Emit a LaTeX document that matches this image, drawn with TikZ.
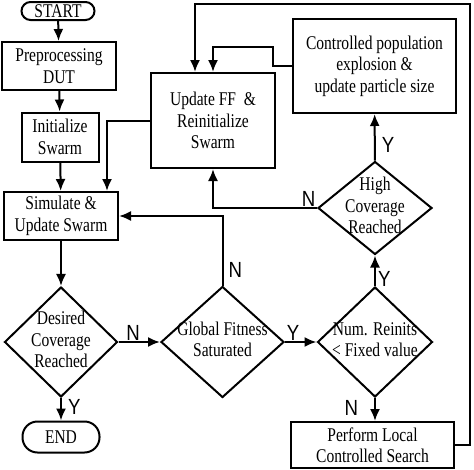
\documentclass[tikz,border=0pt]{standalone}
\usepackage{fontspec}
\setmainfont{Liberation Serif}[FakeStretch=0.8]
\newfontfamily\yesnofont{Liberation Sans}[FakeStretch=0.85]
\usetikzlibrary{arrows.meta,shapes.geometric,positioning}

\newcommand{\dtext}[1]{\smash{\makebox[0pt]{\raisebox{-5bp}{\begin{tabular}{@{}c@{}}#1\end{tabular}}}}}

\tikzset{
	block/.style={draw, rectangle, line width=2bp, inner sep=0pt, align=center,
		font=\fontsize{19.5}{21.5}\selectfont},
	term/.style={block, rounded corners=9bp},
	decision/.style={draw, diamond, line width=2bp, inner sep=0pt,
		font=\fontsize{19.5}{21.5}\selectfont},
	yn/.style={font=\yesnofont\fontsize{22}{22}\selectfont, inner sep=1bp}
}

\begin{document}
\begin{tikzpicture}[>={Latex[length=12bp,width=10bp]}, line width=2bp]
	\useasboundingbox (0bp,0bp) rectangle (474bp,-470bp);

	\node (start) at (58bp,-11bp)    [term, minimum width=73bp, minimum height=18bp]  {START};
	\node (pre)   at (59bp,-66bp)    [block, minimum width=114bp, minimum height=48bp] {Preprocessing\\DUT};
	\node (init)  at (60bp,-137bp)   [block, minimum width=77bp, minimum height=49bp]  {Initialize\\Swarm};
	\node (sim)   at (61bp,-216bp)   [block, minimum width=114bp, minimum height=48bp] {Simulate \&\\Update Swarm};
	\node (des)   at (61bp,-342bp)   [decision, minimum width=113bp, minimum height=110bp] {\dtext{Desired\\Coverage\\Reached}};
	\node (end)   at (61bp,-437bp)   [term, minimum width=77bp, minimum height=31bp, rounded corners=15bp] {END};
	\node (glob)  at (222.5bp,-342bp) [decision, minimum width=123bp, minimum height=111bp] {\dtext{Global Fitness\\Saturated}};
	\node (num)   at (375bp,-342bp)  [decision, minimum width=115bp, minimum height=110bp] {\dtext{Num. Reinits\\\textless{} Fixed value}};
	\node (perf)  at (372.5bp,-445bp) [block, minimum width=163bp, minimum height=46bp] {Perform Local\\Controlled Search};
	\node (high)  at (375bp,-208bp)  [decision, minimum width=114bp, minimum height=93bp] {\dtext{High\\Coverage\\Reached}};
	\node (ctrl)  at (374.5bp,-66bp) [block, minimum width=163bp, minimum height=94bp] {Controlled population\\explosion \&\\update particle size};
	\node (upd)   at (213bp,-120.5bp) [block, minimum width=124bp, minimum height=95bp] {Update FF\ \ \&\\Reinitialize\\Swarm};

	\coordinate (loopT) at (470bp,-4bp);
	\coordinate (loopL) at (195bp,-4bp);
	\coordinate (bend)  at (273bp,-47bp);

	\draw [->] (start) to (pre);
	\draw [->] (pre) to (init);
	\draw [->] (init) to (sim);
	\draw [->] (sim) to (des);
	\draw [->] (des) to node[yn, pos=0.4, right=5bp] {Y} (end);
	\draw [->] (des) to node[yn, pos=0.35, above] {N} (glob);
	\draw [->] (glob.north) |- node[yn, pos=0.115, right=4bp] {N} (sim.east);
	\draw [->] (glob) to node[yn, pos=0.26, above] {Y} (num);
	\draw [->] (num) to node[yn, pos=0.22, right=1bp] {Y} (high);
	\draw [->] (num.south) to node[yn, pos=0.44, left=15bp] {N} (num.south |- perf.north);
	\draw [->] (high) to node[yn, pos=0.33, right=5bp] {Y} (ctrl);
	\draw [->] (high.west) -| node[yn, pos=0.04, above] {N} (upd.south);
	\draw [->] (ctrl.west) -| (bend) -| (upd.north);
	\draw [->] (perf.east) -| (loopT) -- (loopL) -- (loopL |- upd.north);
	\draw [->] (upd.west) -| ([xshift=46bp]sim.north);
\end{tikzpicture}
\end{document}
